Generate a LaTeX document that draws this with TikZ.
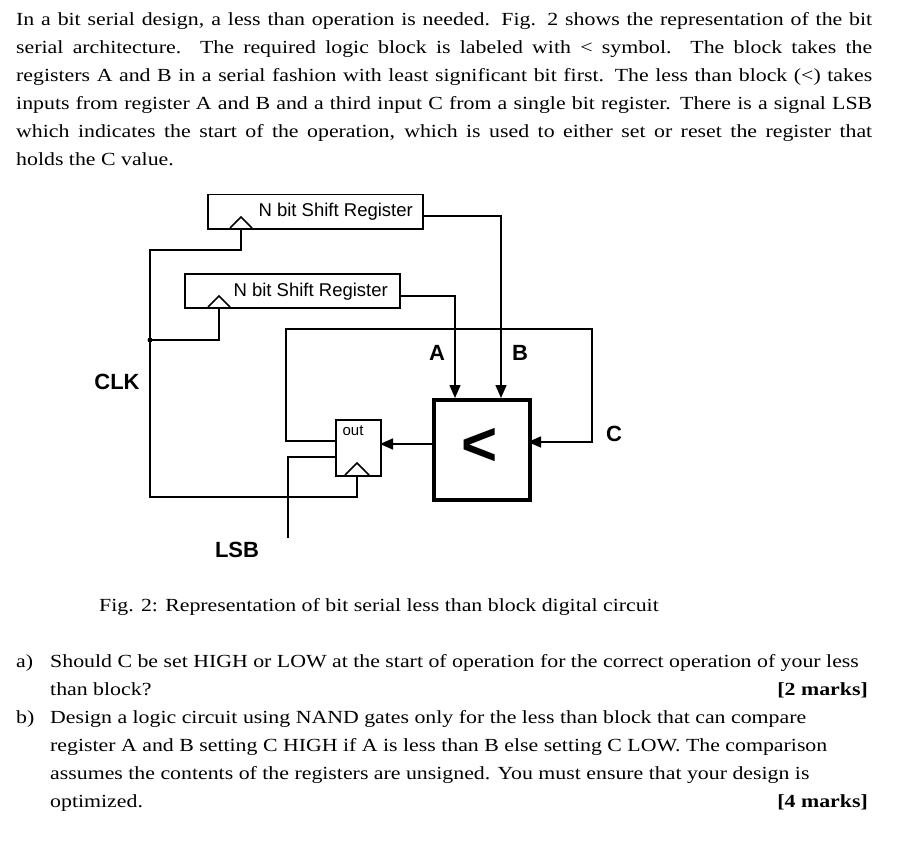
\documentclass[tikz,border=0pt]{standalone}
\usepackage{fontspec}
\setmainfont{Liberation Serif}[FakeStretch=1.18]
\newfontfamily\sansf{Liberation Sans}
\usetikzlibrary{arrows.meta}
\begin{document}
\begin{tikzpicture}[x=1pt,y=-1pt,
  txt/.style={anchor=base west,inner sep=0,font=\fontsize{18.5}{20}\selectfont},
  reg/.style={draw,line width=1.5,minimum width=#1,minimum height=34,inner sep=0},
  rt/.style={anchor=base east,inner sep=0,font=\sansf\fontsize{18.5}{20}\selectfont},
  w/.style={line width=1.5},
  arr/.style={line width=1.5,-{Triangle[length=13,width=11]}},
  lab/.style={font=\sansf\bfseries\fontsize{22}{24}\selectfont,inner sep=0}]
\useasboundingbox (0,0) rectangle (915,845);
\newcommand{\jl}[3]{\node[txt] (#1) at (16,#2) {\makebox[856pt][s]{#3}};}
\jl{l1}{26}{In a bit serial design, a less than operation is needed. Fig. 2 shows the representation of the bit}
\jl{l2}{54}{serial architecture. The required logic block is labeled with < symbol. The block takes the}
\jl{l3}{82}{registers A and B in a serial fashion with least significant bit first. The less than block (<) takes}
\jl{l4}{110}{inputs from register A and B and a third input C from a single bit register. There is a signal LSB}
\jl{l5}{138}{which indicates the start of the operation, which is used to either set or reset the register that}
\node[txt] (l6) at (16,166) {holds the C value.};
% registers
\node[reg=215,anchor=north west] (r1) at (207,194) {};
\node[reg=215,anchor=north west] (r2) at (184,273) {};
\node[rt] (t1) at (413,216) {N bit Shift Register};
\node[rt] (t2) at (388,296) {N bit Shift Register};
\draw[w] (230,228) -- (241,217) -- (252,228);
\draw[w] (208,307) -- (219,296) -- (230,307);
\node[draw,line width=4pt,minimum width=96,minimum height=100,anchor=north west,inner sep=0] (blk) at (432,398) {};
\node[font=\sansf\bfseries\fontsize{62}{64}\selectfont,inner sep=0] (lt) at (480,447) {<};
\node[draw,line width=1.5,minimum width=45,minimum height=56,anchor=north west,inner sep=0] (ff) at (335,419) {};
\node[font=\sansf\fontsize{15}{16}\selectfont,inner sep=0] (out) at (353,431) {out};
\draw[w] (345,475) -- (357,463) -- (369,475);
% clock
\coordinate (d) at (150,340);
\draw[w] (241,228) -- (241,250) -- (150,250) -- (150,497) -- (357,497) -- (357,475);
\draw[w] (219,307) -- (219,340) -- (d);
\fill (d) circle (2.5);
% data
\draw[arr] (r2.east |- 0,296) -- (455,296) -- (455,398);
\draw[arr] (r1.east |- 0,216) -- (501,216) -- (501,398);
\draw[arr] (432,444) -- (380,444);
\draw[w] (528,442) -- (592,442) -- (592,329) -- (286,329) -- (286,441) -- (335,441);
\draw[arr] (592,442) -- (528,442);
\draw[w] (335,457) -- (288,457) -- (288,538);
\node[lab] (A) at (437,353) {A};
\node[lab] (B) at (520,353) {B};
\node[lab] (C) at (614,434) {C};
\node[lab] (CLK) at (117,382) {CLK};
\node[lab] (LSB) at (237,550) {LSB};
\node[txt] (cap) at (99,611) {Fig. 2: Representation of bit serial less than block digital circuit};
\node[txt] (qa) at (16,667) {a)};
\node[txt] (qa1) at (50,667) {Should C be set HIGH or LOW at the start of operation for the correct operation of your less};
\node[txt] (qa2) at (50,695) {than block?};
\node[txt,anchor=base east] (ma) at (868,695) {\textbf{[2 marks]}};
\node[txt] (qb) at (16,723) {b)};
\node[txt] (qb1) at (50,723) {Design a logic circuit using NAND gates only for the less than block that can compare};
\node[txt] (qb2) at (50,751) {register A and B setting C HIGH if A is less than B else setting C LOW. The comparison};
\node[txt] (qb3) at (50,779) {assumes the contents of the registers are unsigned. You must ensure that your design is};
\node[txt] (qb4) at (50,807) {optimized.};
\node[txt,anchor=base east] (mb) at (868,807) {\textbf{[4 marks]}};
\end{tikzpicture}
\end{document}
